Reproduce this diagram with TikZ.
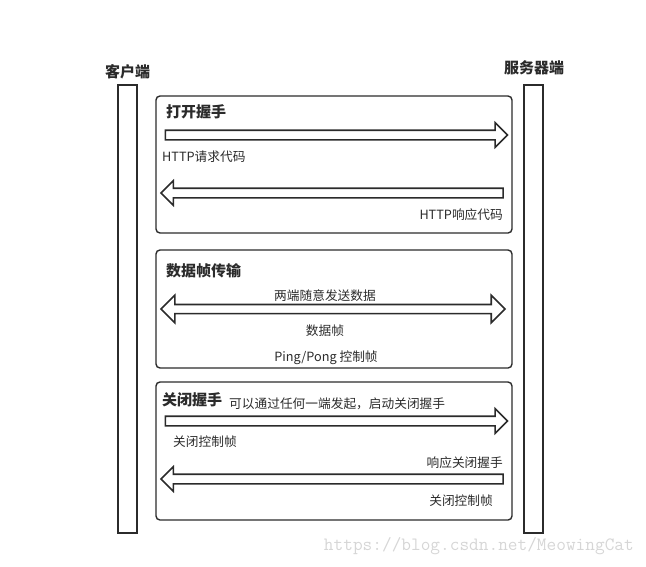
\documentclass[tikz,border=0pt]{standalone}
\usepackage{fontspec}
\setmainfont{Noto Sans CJK SC}
\usetikzlibrary{shapes.arrows}
\definecolor{inkgray}{HTML}{2B2B2B}
\definecolor{markgray}{HTML}{D6D6D6}
\tikzset{
  lane/.style={draw=inkgray, line width=1.6pt, fill=white},
  stage/.style={draw=inkgray, line width=1.4pt, rounded corners=4pt},
  onearrow/.style={single arrow, draw=inkgray, line width=1.6pt, fill=white,
    inner xsep=0pt, inner ysep=4pt, single arrow head extend=7.5pt,
    minimum height=342pt, line join=miter},
  twoarrow/.style={double arrow, draw=inkgray, line width=1.6pt, fill=white,
    inner xsep=0pt, inner ysep=3.75pt, double arrow head extend=9.25pt,
    minimum height=344pt, line join=miter},
  heading/.style={font=\fontsize{15}{17}\selectfont\bfseries, text=inkgray, inner sep=0pt},
  note/.style={font=\fontsize{12.7}{15}\selectfont, text=inkgray, inner sep=0pt}
}
\begin{document}
\begin{tikzpicture}[x=1pt, y=-1pt]
  \useasboundingbox (0,0) rectangle (646,566);
  \begin{scope}
    % lanes
    \draw[lane] (118,85) rectangle (137,533);
    \draw[lane] (524,85) rectangle (543,533);
    \node[heading] (client) at (127.5,72) {客户端};
    \node[heading] (server) at (534,68) {服务器端};
    % stages
    \draw[stage] (156,96) rectangle (512,233);
    \draw[stage] (156,250) rectangle (512,368);
    \draw[stage] (156,382) rectangle (512,520);

    \node[heading, anchor=west] (open) at (166,112) {打开握手};
    \node[onearrow] (req) at (334,135) {};
    \node[note, anchor=west] (reqtext) at (162,157) {HTTP请求代码};
    \node[onearrow, rotate=180] (resp) at (334.5,193) {};
    \node[note, anchor=east] (resptext) at (503,215) {HTTP响应代码};

    \node[heading, anchor=west] (frames) at (166,271) {数据帧传输};
    \node[note] (both) at (325,296) {两端随意发送数据};
    \node[twoarrow] (data) at (333,309) {};
    \node[note] (datatext) at (325,331) {数据帧};
    \node[note] (ping) at (326,358) {Ping/Pong 控制帧};

    \node[heading, anchor=west] (close) at (162,400) {关闭握手};
    \node[note, anchor=west] (either) at (229,404) {可以通过任何一端发起，启动关闭握手};
    \node[onearrow] (closereq) at (334,421) {};
    \node[note, anchor=west] (closetext) at (173,442) {关闭控制帧};
    \node[note, anchor=east] (answer) at (503,463) {响应关闭握手};
    \node[onearrow, rotate=180] (closeresp) at (334.5,479) {};
    \node[note, anchor=east] (closeback) at (493,501) {关闭控制帧};

    \node[font=\ttfamily\fontsize{18.8}{20}\selectfont, text=markgray, inner sep=0pt, anchor=east] (mark) at (634,546) {https://blog.csdn.net/MeowingCat};
  \end{scope}
\end{tikzpicture}
\end{document}
